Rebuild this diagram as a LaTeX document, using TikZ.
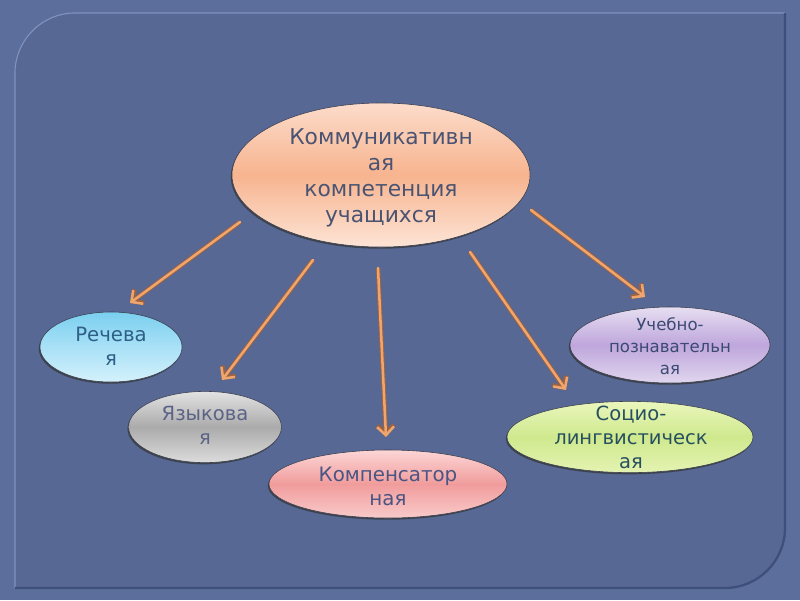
\documentclass[tikz,border=0pt]{standalone}
\usepackage{fontspec}
\setmainfont{DejaVu Sans}
\usetikzlibrary{arrows.meta,shapes.geometric,shadows}
\definecolor{outerbg}{HTML}{5C6E9B}
\definecolor{panel}{HTML}{566893}
\definecolor{panellight}{HTML}{7F92C0}
\definecolor{paneldark}{HTML}{3E4F7B}
\definecolor{arrfill}{HTML}{EFA56E}
\definecolor{arredge}{HTML}{9E6240}
\definecolor{rimcol}{HTML}{3A3E4E}
\definecolor{centretop}{HTML}{FCDCCB}
\definecolor{centremid}{HTML}{F7B48F}
\definecolor{centrebot}{HTML}{FDE4D6}
\definecolor{rechtop}{HTML}{7ACFEF}
\definecolor{rechmid}{HTML}{A9E1F7}
\definecolor{rechbot}{HTML}{D4F1FB}
\definecolor{yaztop}{HTML}{E2E2E2}
\definecolor{yazmid}{HTML}{ABABAB}
\definecolor{yazbot}{HTML}{DCDCDC}
\definecolor{komptop}{HTML}{FCD6D6}
\definecolor{kompmid}{HTML}{F19C9C}
\definecolor{kompbot}{HTML}{F9CACA}
\definecolor{soctop}{HTML}{EAF6BC}
\definecolor{socmid}{HTML}{CFE98E}
\definecolor{socbot}{HTML}{E4F3B2}
\definecolor{uchebtop}{HTML}{E6DEF1}
\definecolor{uchebmid}{HTML}{BFA6DC}
\definecolor{uchebbot}{HTML}{E0D6EE}
\definecolor{centretext}{HTML}{4A5472}
\definecolor{rechtext}{HTML}{2E5F86}
\definecolor{yaztext}{HTML}{5B6386}
\definecolor{komptext}{HTML}{4A5584}
\definecolor{soctext}{HTML}{27505F}
\definecolor{uchebtext}{HTML}{3B4A72}
\begin{document}
\begin{tikzpicture}[x=0.025cm, y=-0.025cm, >=stealth,
  bubble/.style={ellipse, draw=rimcol, line width=0.4pt, inner sep=0pt,
    drop shadow={shadow xshift=-0.8pt, shadow yshift=-1.2pt, fill=black!80, opacity=0.7}},
  txt/.style={align=center, inner sep=0pt},
  arr/.style={line cap=round,
    preaction={draw=arredge, line width=3.2pt, -{Straight Barb[length=6pt,width=12pt]}},
    draw=arrfill, line width=1.8pt, -{Straight Barb[length=6pt,width=12pt]}}]
\useasboundingbox (0,0) rectangle (800,600);
\fill[outerbg] (0,0) rectangle (800,600);
\fill[panel] (15,588) -- (15,73) .. controls (15,40) and (42,13) .. (75,13) -- (785,13) -- (785,528) .. controls (785,561) and (758,588) .. (725,588) -- cycle;
\draw[panellight, line width=0.8pt] (15,588) -- (15,73) .. controls (15,40) and (42,13) .. (75,13) -- (785,13);
\draw[paneldark, line width=1.6pt] (785,13) -- (785,528) .. controls (785,561) and (758,588) .. (725,588) -- (15,588);
\node (centre) at (381,175) [bubble, minimum width=7.45cm, minimum height=3.6cm, top color=centretop, bottom color=centrebot, middle color=centremid] {};
\node (rech) at (111,347) [bubble, minimum width=3.55cm, minimum height=1.75cm, top color=rechtop, bottom color=rechbot, middle color=rechmid] {};
\node (yaz) at (205,427) [bubble, minimum width=3.82cm, minimum height=1.78cm, top color=yaztop, bottom color=yazbot, middle color=yazmid] {};
\node (komp) at (388,484) [bubble, minimum width=5.95cm, minimum height=1.7cm, top color=komptop, bottom color=kompbot, middle color=kompmid] {};
\node (soc) at (630,437) [bubble, minimum width=6.15cm, minimum height=1.78cm, top color=soctop, bottom color=socbot, middle color=socmid] {};
\node (ucheb) at (670,345) [bubble, minimum width=5cm, minimum height=1.9cm, top color=uchebtop, bottom color=uchebbot, middle color=uchebmid] {};
\node (centre-t) at (381,178) [txt, text=centretext, font=\fontsize{15.5}{18.4}\selectfont] {Коммуникативн\\ая\\компетенция\\учащихся};
\node (rech-t) at (111,346) [txt, text=rechtext, font=\fontsize{14}{17}\selectfont] {Речева\\я};
\node (yaz-t) at (205,425) [txt, text=yaztext, font=\fontsize{13.9}{17}\selectfont] {Языкова\\я};
\node (komp-t) at (388,486) [txt, text=komptext, font=\fontsize{14.1}{17}\selectfont] {Компенсатор\\ная};
\node (soc-t) at (631,437) [txt, text=soctext, font=\fontsize{13.9}{17}\selectfont] {Социо-\\лингвистическ\\ая};
\node (ucheb-t) at (670,346) [txt, text=uchebtext, font=\fontsize{11.8}{15.6}\selectfont] {Учебно-\\познавательн\\ая};
\coordinate (s1) at (240,222);
\coordinate (s2) at (313,260);
\coordinate (s3) at (378,268);
\coordinate (s4) at (470,252);
\coordinate (s5) at (531,210);
\coordinate (e1) at (130,303);
\coordinate (e2) at (222,380);
\coordinate (e3) at (386,437);
\coordinate (e4) at (566,390);
\coordinate (e5) at (645,297);
\draw[arr] (s1) -- (e1);
\draw[arr] (s2) -- (e2);
\draw[arr] (s3) -- (e3);
\draw[arr] (s4) -- (e4);
\draw[arr] (s5) -- (e5);
\end{tikzpicture}
\end{document}
